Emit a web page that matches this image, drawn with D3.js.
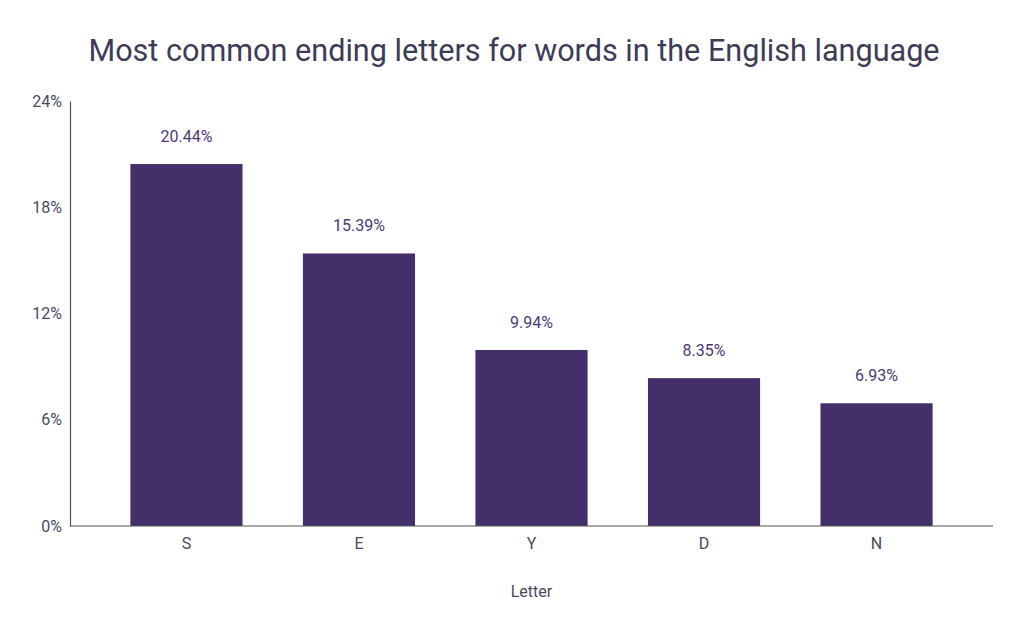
<!DOCTYPE html>
<html>
<head>
<meta charset="utf-8">
<script src="https://cdn.jsdelivr.net/npm/d3@7"></script>
<style>
  body { margin: 0; background: #fff; }
  text { font-family: Roboto, "Noto Sans", sans-serif; }
</style>
</head>
<body>
<div id="chart"></div>
<script>
// Data
const letters = ["S", "E", "Y", "D", "N"];
const shares = [20.44, 15.39, 9.94, 8.35, 6.93];
const yTicks = [0, 6, 12, 18, 24];

const size = { width: 1024, height: 634 };
const margin = { left: 70, right: 31, top: 101, bottom: 108 };
const barColor = "#43306a";
const textColor = "#4a4a5e";
const labelColor = "#4b3a78";

const svg = d3.select("#chart")
  .append("svg")
  .attr("width", size.width)
  .attr("height", size.height);

// Scales
const xScale = d3.scaleBand(letters, [margin.left, size.width - margin.right])
  .paddingInner(0.35)
  .paddingOuter(0.35);
const yScale = d3.scaleLinear([0, 24], [size.height - margin.bottom, margin.top]);

// Title
svg.append("text")
  .attr("x", 514)
  .attr("y", 61)
  .attr("text-anchor", "middle")
  .attr("font-size", 30.6)
  .attr("fill", "#3d3b55")
  .text("Most common ending letters for words in the English language");

// Bars
svg.append("g")
  .selectAll("rect")
  .data(letters)
  .join("rect")
  .attr("x", (d) => xScale(d))
  .attr("y", (d, i) => yScale(shares[i]))
  .attr("width", xScale.bandwidth())
  .attr("height", (d, i) => yScale(0) - yScale(shares[i]))
  .attr("fill", barColor);

// Value labels
svg.append("g")
  .selectAll("text")
  .data(letters)
  .join("text")
  .attr("x", (d) => xScale(d) + xScale.bandwidth() / 2)
  .attr("y", (d, i) => yScale(shares[i]) - 22)
  .attr("text-anchor", "middle")
  .attr("font-size", 16)
  .attr("fill", labelColor)
  .text((d, i) => shares[i].toFixed(2) + "%");

// Y axis
const yAxis = svg.append("g")
  .attr("transform", `translate(${margin.left},0)`)
  .call(d3.axisLeft(yScale).tickValues(yTicks).tickSize(0).tickPadding(8).tickFormat((d) => d + "%"));
yAxis.select(".domain").attr("stroke", "#555").attr("stroke-width", 1.2);
yAxis.selectAll("text")
  .attr("font-size", 16)
  .attr("fill", textColor)
  .attr("font-family", "Roboto");

// X axis
const xAxis = svg.append("g")
  .attr("transform", `translate(0,${yScale(0)})`)
  .call(d3.axisBottom(xScale).tickSize(0).tickPadding(12));
xAxis.select(".domain")
  .attr("d", `M${margin.left},0H${size.width - margin.right}`)
  .attr("stroke", "#555").attr("stroke-width", 1.2);
xAxis.selectAll("text")
  .attr("font-size", 16)
  .attr("fill", textColor)
  .attr("font-family", "Roboto");

// Axis title
svg.append("text")
  .attr("x", (margin.left + size.width - margin.right) / 2)
  .attr("y", 597)
  .attr("text-anchor", "middle")
  .attr("font-size", 16)
  .attr("fill", textColor)
  .text("Letter");
</script>
</body>
</html>
